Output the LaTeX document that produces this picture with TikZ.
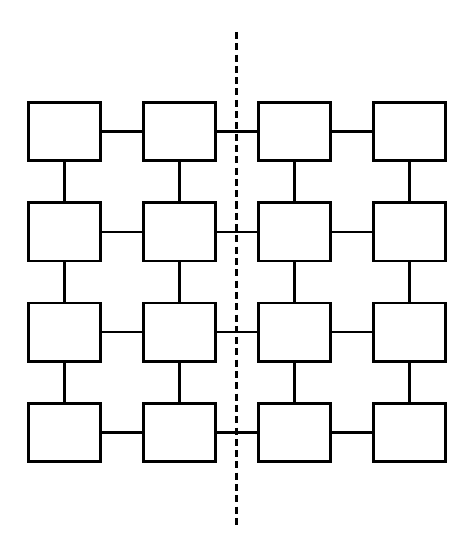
\documentclass[tikz,border=0pt]{standalone}
\begin{document}
\begin{tikzpicture}[x=1pt,y=-1pt,
  cell/.style={draw=black,line width=2.6pt,minimum width=72.5pt,minimum height=58.5pt,inner sep=0pt,fill=white},
  link/.style={draw=black,line width=2.4pt},
  cut/.style={draw=black,line width=2.4pt,dash pattern=on 7pt off 4.3pt}]
\useasboundingbox (0,0) rectangle (474,553);
\coordinate (ct) at (236.5,32);
\coordinate (cb) at (236.5,525);
\foreach \c/\x in {1/64.5,2/179.5,3/294.5,4/409.5}{
  \foreach \r/\y in {1/131.5,2/231.8,3/332.1,4/432.5}{
    \node[cell] (n\r\c) at (\x,\y) {};
  }
}
\foreach \r in {1,2,3,4}{
  \draw[link] (n\r1) -- (n\r2);
  \draw[link] (n\r2) -- (n\r3);
  \draw[link] (n\r3) -- (n\r4);
}
\foreach \c in {1,2,3,4}{
  \draw[link] (n1\c) -- (n2\c);
  \draw[link] (n2\c) -- (n3\c);
  \draw[link] (n3\c) -- (n4\c);
}
\draw[cut] (ct) -- (cb);
\end{tikzpicture}
\end{document}
